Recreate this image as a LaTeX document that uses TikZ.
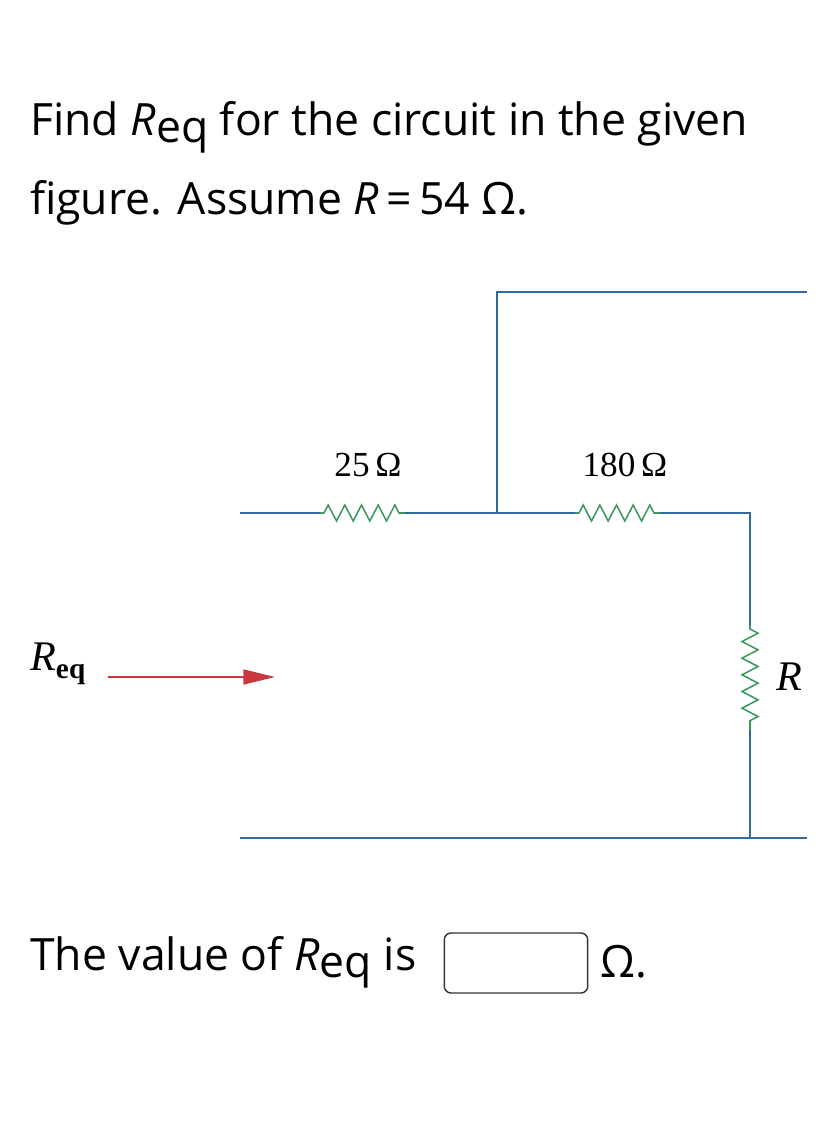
\documentclass[tikz,border=0pt]{standalone}
\usepackage{fontspec}
\setmainfont{Open Sans}
\newfontfamily\serifc{Liberation Serif}
\usetikzlibrary{decorations.pathmorphing,arrows.meta}
\definecolor{wireblue}{HTML}{2F6AA0}
\definecolor{resgreen}{HTML}{3A9A5A}
\definecolor{arrred}{HTML}{C8383E}
\newcommand{\Rsub}{\textit{R}\raisebox{-0.3ex}{eq}}
\tikzset{wire/.style={draw=wireblue,line width=1.6pt},
	res/.style={draw=resgreen,line width=1.3pt,decorate,
		decoration={zigzag,amplitude=0.24cm,segment length=0.5cm,pre length=0.12cm,post length=0.12cm}},
	txt/.style={font=\fontsize{38}{44}\selectfont,anchor=west,inner sep=0},
	lbl/.style={font=\serifc\fontsize{30}{34}\selectfont,inner sep=0}}

\begin{document}
\begin{tikzpicture}[x=0.03cm,y=-0.03cm]
	\useasboundingbox (0,0) rectangle (837,1124);

	\node [txt] (q1) at (30,127) {Find \Rsub\ for the circuit in the given};
	\node [txt] (q2) at (30,203) {figure. Assume \textit{R}\,=\,54 Ω.};

	% circuit corners
	\coordinate (tl) at (240,513);
	\coordinate (ra) at (320,513);
	\coordinate (rb) at (405,513);
	\coordinate (jn) at (497,513);
	\coordinate (jt) at (497,292);
	\coordinate (te) at (807,292);
	\coordinate (sa) at (575,513);
	\coordinate (sb) at (660,513);
	\coordinate (tr) at (750,513);
	\coordinate (va) at (750,625);
	\coordinate (vb) at (750,730);
	\coordinate (br) at (750,838);
	\coordinate (bl) at (240,838);
	\coordinate (be) at (807,838);

	\draw [wire] (tl) -- (ra) (rb) -- (sa) (sb) -- (tr) -- (va) (vb) -- (br);
	\draw [wire] (jn) -- (jt) -- (te);
	\draw [wire] (bl) -- (be);
	\draw [res] (ra) -- (rb);
	\draw [res] (sa) -- (sb);
	\draw [res] (va) -- (vb);

	\node [lbl] (l25) at (368,465) {25\,Ω};
	\node [lbl] (l180) at (625,465) {180\,Ω};
	\node [lbl,anchor=west,font=\serifc\fontsize{36}{40}\selectfont] (lR) at (776,677) {\textit{R}};

	\node [lbl,anchor=west,font=\serifc\fontsize{36}{40}\selectfont] (req) at (30,664) {\textit{R}\raisebox{-0.4ex}{\fontsize{25}{28}\selectfont\textbf{eq}}};
	\coordinate (ae) at (275,677);
	\draw [draw=arrred,line width=1.4pt,-{Triangle[length=0.95cm,width=0.45cm]}] (108,677) -- (ae);

	\node [txt] (ans) at (30,962) {The value of \Rsub\ is};
	\node [draw=black!80,line width=1.2pt,rounded corners=0.2cm,minimum width=4.3cm,minimum height=1.8cm] (box) at (516,963) {};
	\node [txt] (om) at (600,962) {Ω.};
\end{tikzpicture}
\end{document}
